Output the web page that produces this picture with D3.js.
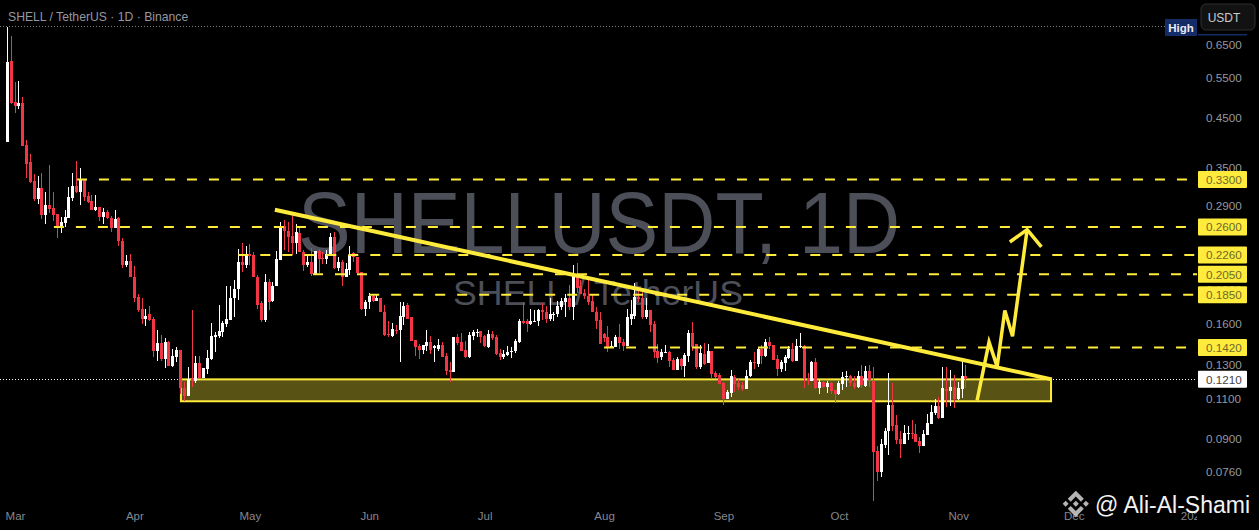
<!DOCTYPE html>
<html>
<head>
<meta charset="utf-8">
<title>SHELLUSDT 1D</title>
<script src="https://cdnjs.cloudflare.com/ajax/libs/d3/7.8.5/d3.min.js"></script>
<style>
    html, body { margin: 0; padding: 0; background: #000; overflow: hidden; }
    svg { display: block; font-family: "Liberation Sans", Arial, sans-serif; }
</style>
</head>
<body>
<script>
var firstDay = "2025-02-27";

var opens = [
    .3987,.5983,.4870,.4774,.4846,.3928,.3607,.3279,.2997,.3167,
    .2765,.2908,.2864,.2779,.2591,.2656,.2724,.3012,.3198,.3104,
    .3296,.3042,.2967,.2836,.2879,.2738,.2807,.2724,.2591,.2724,
    .2428,.2153,.2197,.2028,.1834,.1727,.1642,.1676,.1642,.1392,
    .1449,.1338,.1457,.1292,.1351,.1399,.1157,.1111,.1210,.1198,
    .1311,.1216,.1272,.1338,.1494,.1501,.1532,.1594,.1634,.1816,
    .1900,.2186,.2153,.2275,.2263,.2028,.1771,.1634,.1977,.1789,
    .1929,.2208,.2617,.2553,.2490,.2404,.2527,.2298,.2153,.2186,
    .2058,.2309,.2230,.2219,.2263,.2477,.2121,.2186,.2028,.2100,
    .2286,.2241,.2079,.1727,.1780,.1843,.1789,.1816,.1701,.1516,
    .1501,.1547,.1547,.1659,.1762,.1659,.1471,.1428,.1399,.1428,
    .1457,.1414,.1406,.1435,.1358,.1266,.1253,.1494,.1457,.1399,
    .1351,.1501,.1524,.1539,.1501,.1421,.1516,.1494,.1378,.1351,
    .1365,.1385,.1392,.1457,.1618,.1618,.1594,.1618,.1618,.1718,
    .1701,.1642,.1676,.1676,.1744,.1780,.1825,.1744,.2048,.1929,
    .1871,.1843,.1789,.1701,.1634,.1516,.1494,.1421,.1421,.1494,
    .1457,.1428,.1642,.1667,.1834,.1816,.1651,.1710,.1594,.1392,
    .1351,.1378,.1385,.1331,.1266,.1338,.1292,.1358,.1524,.1442,
    .1285,.1372,.1311,.1392,.1247,.1235,.1186,.1095,.1128,.1222,
    .1186,.1174,.1151,.1228,.1318,.1305,.1406,.1358,.1457,.1435,
    .1338,.1272,.1311,.1344,.1406,.1324,.1421,.1428,.1216,.1198,
    .1318,.1157,.1192,.1163,.1186,.1145,.1123,.1180,.1222,.1228,
    .1186,.1163,.1228,.1168,.1260,.1198,.0844,.0759,.0870,.0933,
    .1063,.0961,.0896,.0874,.0919,.0923,.0919,.0887,.0865,.0914,
    .0966,.1021,.1057,.0996,.1151,.1140,.1163,.1095,.1151,.1228
];

var closes = [
    .5953,.4846,.4774,.4846,.3908,.3571,.3263,.2997,.3167,.2765,
    .2908,.2850,.2765,.2591,.2670,.2738,.3027,.3198,.3104,.3296,
    .3027,.2952,.2836,.2879,.2738,.2807,.2724,.2591,.2710,.2428,
    .2153,.2197,.2018,.1825,.1718,.1642,.1667,.1634,.1392,.1449,
    .1338,.1457,.1292,.1358,.1399,.1157,.1111,.1210,.1198,.1311,
    .1216,.1279,.1344,.1501,.1509,.1539,.1602,.1642,.1825,.1900,
    .2186,.2153,.2275,.2252,.2018,.1762,.1634,.1977,.1780,.1938,
    .2219,.2617,.2553,.2477,.2404,.2540,.2298,.2153,.2186,.2058,
    .2309,.2219,.2219,.2275,.2477,.2121,.2186,.2028,.2110,.2263,
    .2241,.2069,.1727,.1780,.1843,.1789,.1816,.1693,.1509,.1509,
    .1555,.1539,.1667,.1753,.1642,.1464,.1421,.1399,.1435,.1457,
    .1399,.1428,.1435,.1351,.1260,.1253,.1494,.1449,.1392,.1351,
    .1509,.1532,.1532,.1494,.1428,.1516,.1486,.1372,.1351,.1372,
    .1385,.1392,.1464,.1618,.1602,.1594,.1626,.1626,.1718,.1701,
    .1642,.1676,.1684,.1753,.1789,.1825,.1744,.2048,.1919,.1862,
    .1843,.1780,.1693,.1626,.1442,.1486,.1421,.1428,.1494,.1449,
    .1428,.1659,.1676,.1834,.1807,.1651,.1710,.1586,.1385,.1344,
    .1385,.1385,.1324,.1266,.1338,.1292,.1365,.1524,.1421,.1285,
    .1378,.1305,.1392,.1241,.1222,.1180,.1095,.1134,.1228,.1180,
    .1163,.1151,.1228,.1318,.1311,.1406,.1358,.1457,.1428,.1331,
    .1272,.1318,.1351,.1406,.1324,.1428,.1428,.1216,.1198,.1318,
    .1157,.1192,.1163,.1186,.1140,.1123,.1186,.1222,.1228,.1186,
    .1163,.1228,.1174,.1260,.1204,.0840,.0759,.0874,.0933,.1063,
    .0956,.0892,.0874,.0923,.0923,.0919,.0883,.0865,.0919,.0971,
    .1026,.1057,.0996,.1157,.1140,.1163,.1095,.1157,.1228,.1210
];

var highs = [
    .7097,.6783,.5385,.5412,.4994,.4027,.3754,.3396,.3362,.3413,
    .3104,.3553,.3104,.2779,.2738,.2836,.3182,.3413,.3625,.3500,
    .3312,.3104,.3057,.3057,.2879,.2864,.2836,.2751,.2836,.2738,
    .2465,.2263,.2275,.2142,.1862,.1816,.1727,.1753,.1651,.1547,
    .1509,.1486,.1464,.1406,.1421,.1399,.1192,.1285,.1718,.1358,
    .1358,.1279,.1399,.1602,.1532,.1762,.1618,.1938,.1938,.1997,
    .2333,.2404,.2368,.2392,.2298,.2048,.1789,.2058,.2007,.1977,
    .2309,.2670,.2697,.2670,.2807,.2643,.2591,.2321,.2263,.2344,
    .2309,.2333,.2298,.2321,.2527,.2540,.2241,.2208,.2175,.2368,
    .2298,.2241,.2079,.1798,.1871,.1862,.1862,.1825,.1762,.1618,
    .1602,.1586,.1780,.1780,.1771,.1659,.1471,.1442,.1435,.1547,
    .1501,.1435,.1479,.1457,.1378,.1318,.1494,.1516,.1524,.1464,
    .1532,.1547,.1555,.1539,.1509,.1547,.1539,.1509,.1406,.1399,
    .1428,.1421,.1479,.1642,.1780,.1642,.1727,.1718,.1727,.1771,
    .1753,.1816,.1693,.1789,.1825,.1862,.1948,.2153,.2175,.1997,
    .1909,.2007,.1853,.1744,.1693,.1524,.1578,.1464,.1509,.1594,
    .1479,.1727,.1798,.1958,.1900,.1900,.1816,.1718,.1618,.1442,
    .1406,.1435,.1392,.1344,.1351,.1344,.1378,.1547,.1610,.1442,
    .1435,.1449,.1442,.1392,.1260,.1247,.1192,.1145,.1266,.1235,
    .1210,.1192,.1266,.1331,.1385,.1421,.1435,.1479,.1494,.1435,
    .1365,.1331,.1365,.1428,.1449,.1479,.1524,.1435,.1247,.1324,
    .1344,.1204,.1204,.1198,.1192,.1145,.1198,.1253,.1260,.1235,
    .1228,.1260,.1298,.1292,.1298,.1285,.0865,.0896,.0947,.1247,
    .1186,.1011,.0933,.0961,.0956,.0985,.0966,.0905,.0937,.1016,
    .1063,.1095,.1106,.1285,.1285,.1266,.1235,.1192,.1324,.1298
];

var lows = [
    .3987,.4822,.4610,.4703,.3908,.3329,.3247,.2967,.2922,.2710,
    .2643,.2793,.2683,.2465,.2527,.2604,.2724,.2967,.3088,.2908,
    .2967,.2937,.2836,.2821,.2683,.2643,.2710,.2540,.2591,.2368,
    .2121,.2132,.2018,.1780,.1693,.1594,.1578,.1626,.1351,.1324,
    .1324,.1279,.1292,.1285,.1318,.1123,.1084,.1111,.1163,.1186,
    .1216,.1216,.1241,.1331,.1385,.1486,.1494,.1570,.1634,.1651,
    .1798,.2079,.2121,.2153,.2018,.1727,.1610,.1610,.1718,.1780,
    .1929,.2208,.2321,.2298,.2263,.2275,.2298,.2089,.2132,.2038,
    .2058,.2069,.2164,.2164,.2263,.2110,.2089,.1929,.2018,.2048,
    .2186,.2069,.1718,.1667,.1727,.1780,.1789,.1693,.1501,.1494,
    .1494,.1516,.1318,.1586,.1642,.1464,.1358,.1338,.1372,.1392,
    .1372,.1318,.1392,.1351,.1235,.1192,.1253,.1435,.1392,.1344,
    .1344,.1471,.1494,.1449,.1421,.1414,.1471,.1365,.1331,.1338,
    .1358,.1344,.1378,.1449,.1594,.1532,.1586,.1610,.1578,.1634,
    .1602,.1618,.1618,.1659,.1710,.1651,.1710,.1634,.1871,.1853,
    .1807,.1762,.1693,.1555,.1442,.1457,.1385,.1414,.1421,.1406,
    .1392,.1428,.1586,.1642,.1780,.1642,.1642,.1532,.1344,.1311,
    .1331,.1378,.1285,.1266,.1266,.1266,.1222,.1318,.1392,.1272,
    .1272,.1298,.1311,.1210,.1216,.1180,.1063,.1095,.1106,.1134,
    .1145,.1140,.1151,.1222,.1272,.1285,.1305,.1351,.1406,.1331,
    .1228,.1253,.1260,.1338,.1318,.1324,.1414,.1157,.1174,.1198,
    .1151,.1123,.1157,.1128,.1123,.1073,.1117,.1145,.1163,.1168,
    .1151,.1157,.1157,.1163,.1163,.0657,.0726,.0741,.0857,.0827,
    .0933,.0874,.0815,.0874,.0892,.0896,.0883,.0836,.0865,.0914,
    .0966,.1011,.0990,.0996,.1052,.1057,.1047,.1089,.1100,.1157
];

var priceTicks = [0.65, 0.55, 0.45, 0.35, 0.29, 0.19, 0.16, 0.13, 0.11, 0.09, 0.076];
var levelPrices = [0.33, 0.26, 0.226, 0.205, 0.185, 0.142];
var levelStartBars = [18.1, 12.1, 60, 79.4, 94, 155];
var levelEndBars = [306.6, 306.4, 308.3, 309.1, 308.2, 306.4];

var lastPrice = 0.121;
var highPrice = 0.7097;

var zoneBars = [45.1, 271.1];
var zonePrices = [0.121, 0.1084];

var trendBars = [69.5, 271.3];
var trendPrices = [0.2836, 0.121];

var arrowBars = [251.9, 255, 257.1, 259.1, 261.1, 264.9];
var arrowPrices = [0.1089, 0.1459, 0.129, 0.171, 0.1503, 0.2566];
var headBars = [260.4, 264.9, 268.6];
var headPrices = [0.2412, 0.2566, 0.2353];

var Chart = (function () {
    var svg, x, y, start;
    var width = 1259, height = 530, axisLeft = 1197;
    var yellow = "#ffeb3b", red = "#f23645";
    var binance = "M38.73 53.2l24.59-24.58 24.6 24.6 14.3-14.31L63.32 0 24.43 38.9zM0 63.31l14.3-14.31 14.31 14.31-14.31 14.3zM38.73 73.41l24.59 24.59 24.6-24.6 14.31 14.29-38.9 38.91-38.91-38.88-.02-.02zM98.01 63.31l14.3-14.3 14.3 14.3-14.3 14.3zM77.83 63.3L63.32 48.78 52.59 59.51l-1.24 1.23-2.54 2.54 14.51 14.5 14.51-14.47z";

    return { init: init };

    function init() {
        start = new Date(firstDay + "T00:00:00Z");

        //One bar per day, price on a log axis
        x = d3.scaleLinear().domain([0, 308]).range([7.3, 1193.1]);
        y = d3.scaleLog().domain([0.076, 0.65]).range([472, 44.5]);

        svg = d3.select("body").append("svg")
            .attr("width", width)
            .attr("height", height);

        svg.append("rect")
            .attr("width", width)
            .attr("height", height)
            .attr("fill", "#000");

        drawWatermark();
        drawDateAxis();
        drawReferenceLines();
        drawZone();
        drawCandles();
        drawLevels();
        drawPatterns();
        drawPriceAxis();
        drawTitle();
        drawCredit();
    }

    function drawWatermark() {
        svg.append("text")
            .attr("x", 599)
            .attr("y", 253)
            .attr("text-anchor", "middle")
            .attr("font-size", 88)
            .attr("textLength", 602)
            .attr("lengthAdjust", "spacingAndGlyphs")
            .attr("fill", "#4c4e58")
            .text("SHELLUSDT, 1D");

        svg.append("text")
            .attr("x", 598)
            .attr("y", 304.5)
            .attr("text-anchor", "middle")
            .attr("font-size", 35)
            .attr("textLength", 290)
            .attr("lengthAdjust", "spacingAndGlyphs")
            .attr("fill", "#4c4e58")
            .text("SHELL / TetherUS");
    }

    function drawDateAxis() {
        var months = d3.utcMonth.range(new Date(Date.UTC(2025, 2, 1)), new Date(Date.UTC(2026, 0, 2)));
        var format = d3.utcFormat("%b");
        var byOffset = new Map(months.map(function (m) {
            return [d3.utcDay.count(start, m), m];
        }));

        var axis = d3.axisBottom(x)
            .tickValues(Array.from(byOffset.keys()))
            .tickSize(0)
            .tickPadding(0)
            .tickFormat(function (d) {
                var m = byOffset.get(d);
                return m.getUTCMonth() === 0 ? String(m.getUTCFullYear()) : format(m);
            });

        var g = svg.append("g")
            .attr("transform", "translate(0,512)")
            .call(axis);

        g.select(".domain").remove();
        g.selectAll("text")
            .attr("font-family", "Liberation Sans, Arial, sans-serif")
            .attr("font-size", 11.5)
            .attr("dy", "0.71em")
            .attr("fill", "#85888f");
    }

    function drawReferenceLines() {
        svg.append("line")
            .attr("x1", 0).attr("x2", 1165)
            .attr("y1", Math.floor(y(highPrice)) + 0.5).attr("y2", Math.floor(y(highPrice)) + 0.5)
            .attr("stroke", "#7b7d85")
            .attr("stroke-dasharray", "1 2");

        svg.append("line")
            .attr("x1", 0).attr("x2", axisLeft)
            .attr("y1", Math.floor(y(lastPrice)) + 0.5).attr("y2", Math.floor(y(lastPrice)) + 0.5)
            .attr("stroke", "#ffffff")
            .attr("stroke-dasharray", "1 2");
    }

    function drawZone() {
        svg.append("rect")
            .attr("x", x(zoneBars[0]))
            .attr("y", y(zonePrices[0]))
            .attr("width", x(zoneBars[1]) - x(zoneBars[0]))
            .attr("height", y(zonePrices[1]) - y(zonePrices[0]))
            .attr("fill", yellow)
            .attr("fill-opacity", 0.35)
            .attr("stroke", yellow)
            .attr("stroke-width", 2);
    }

    function drawCandles() {
        var bars = d3.range(opens.length);
        var colour = function (i) { return closes[i] >= opens[i] ? "#ffffff" : red; };
        var pixel = function (i) { return Math.floor(x(i)); };

        var candles = svg.append("g")
            .attr("shape-rendering", "crispEdges")
            .selectAll(".candle")
            .data(bars)
            .enter()
            .append("g")
            .attr("class", "candle");

        candles.append("line")
            .attr("x1", function (i) { return pixel(i) + 0.5; })
            .attr("x2", function (i) { return pixel(i) + 0.5; })
            .attr("y1", function (i) { return y(highs[i]); })
            .attr("y2", function (i) { return y(lows[i]); })
            .attr("stroke", colour);

        candles.append("rect")
            .attr("x", function (i) { return pixel(i) - 1; })
            .attr("width", 3)
            .attr("y", function (i) { return y(Math.max(opens[i], closes[i])); })
            .attr("height", function (i) {
                return Math.max(1, y(Math.min(opens[i], closes[i])) - y(Math.max(opens[i], closes[i])));
            })
            .attr("fill", colour);
    }

    function drawLevels() {
        svg.append("g")
            .selectAll("line")
            .data(levelPrices)
            .enter()
            .append("line")
            .attr("x1", function (d, i) { return x(levelStartBars[i]); })
            .attr("x2", function (d, i) { return x(levelEndBars[i]); })
            .attr("y1", function (d) { return y(d); })
            .attr("y2", function (d) { return y(d); })
            .attr("stroke", yellow)
            .attr("stroke-width", 2)
            .attr("stroke-dasharray", "10 12");
    }

    function drawPatterns() {
        var line = d3.line()
            .x(function (d) { return x(d[0]); })
            .y(function (d) { return y(d[1]); });

        svg.append("path")
            .attr("d", line(d3.zip(trendBars, trendPrices)))
            .attr("fill", "none")
            .attr("stroke", yellow)
            .attr("stroke-width", 4);

        [d3.zip(arrowBars, arrowPrices), d3.zip(headBars, headPrices)].forEach(function (points) {
            svg.append("path")
                .attr("d", line(points))
                .attr("fill", "none")
                .attr("stroke", yellow)
                .attr("stroke-width", 3.5);
        });
    }

    function drawPriceAxis() {
        //Panel hides whatever runs under the scale
        svg.append("rect")
            .attr("x", axisLeft)
            .attr("width", width - axisLeft)
            .attr("height", 490)
            .attr("fill", "#000");

        svg.append("rect")
            .attr("x", axisLeft)
            .attr("y", 490)
            .attr("width", width - axisLeft)
            .attr("height", 40)
            .attr("fill", "#000");

        var axis = d3.axisRight(y)
            .tickValues(priceTicks)
            .tickSize(0)
            .tickPadding(0)
            .tickFormat(d3.format(".4f"));

        var g = svg.append("g")
            .attr("transform", "translate(1206,0)")
            .call(axis);

        g.select(".domain").remove();
        g.selectAll("text")
            .attr("font-family", "Liberation Sans, Arial, sans-serif")
            .attr("font-size", 11.7)
            .attr("fill", "#9598a1");

        levelPrices.forEach(function (p) { priceTag(p, yellow, "#6d6a2c"); });
        priceTag(lastPrice, "#ffffff", "#444444");

        //High marker
        svg.append("rect")
            .attr("x", 1165).attr("y", 19)
            .attr("width", 32).attr("height", 17)
            .attr("fill", "#142c68");

        svg.append("text")
            .attr("x", 1181).attr("y", 31.5)
            .attr("text-anchor", "middle")
            .attr("font-size", 11.5)
            .attr("font-weight", "bold")
            .attr("fill", "#e8ebf2")
            .text("High");

        svg.append("rect")
            .attr("x", 1198).attr("y", 34)
            .attr("width", 49).attr("height", 1.5)
            .attr("fill", "#142c68");

        //Currency button
        svg.append("rect")
            .attr("x", 1201).attr("y", 4)
            .attr("width", 54).attr("height", 26)
            .attr("rx", 5)
            .attr("fill", "#121212")
            .attr("stroke", "#2f2f2f");

        svg.append("text")
            .attr("x", 1224).attr("y", 21.5)
            .attr("text-anchor", "middle")
            .attr("font-size", 12)
            .attr("fill", "#c9cbd1")
            .text("USDT");
    }

    function priceTag(price, fill, textFill) {
        svg.append("rect")
            .attr("x", 1198)
            .attr("y", y(price) - 8.5)
            .attr("width", 49)
            .attr("height", 17)
            .attr("rx", 1)
            .attr("fill", fill);

        svg.append("text")
            .attr("x", 1206)
            .attr("y", y(price))
            .attr("dy", "0.36em")
            .attr("font-size", 11.7)
            .attr("fill", textFill)
            .text(d3.format(".4f")(price));
    }

    function drawTitle() {
        svg.append("text")
            .attr("x", 8)
            .attr("y", 20.5)
            .attr("font-size", 12.2)
            .attr("fill", "#9598a1")
            .text("SHELL / TetherUS · 1D · Binance");
    }

    function drawCredit() {
        svg.append("path")
            .attr("d", binance)
            .attr("transform", "translate(1062.7,490.7) scale(0.207)")
            .attr("fill", "#d4d4d4")
            .attr("fill-opacity", 0.85);

        svg.append("text")
            .attr("x", 1095)
            .attr("y", 513)
            .attr("font-size", 23)
            .attr("fill", "#f2f2f2")
            .text("@ Ali-Al-Shami");
    }
}());

Chart.init();
</script>
</body>
</html>
